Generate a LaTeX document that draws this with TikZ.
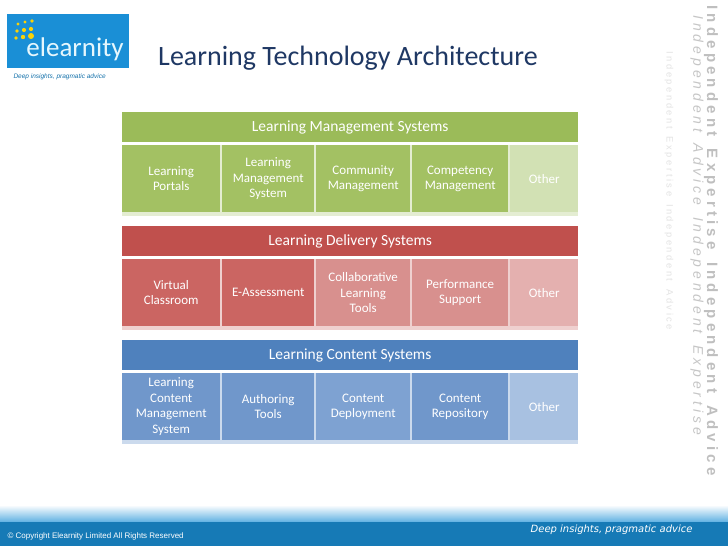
\documentclass[tikz,border=0pt]{standalone}
\usepackage{fontspec}
\setmainfont{Carlito}
\newfontfamily\arial{Liberation Sans}
\newfontfamily\dejas{DejaVu Sans}
\definecolor{gH}{HTML}{9BBB59}\definecolor{gC}{HTML}{A3C163}\definecolor{gO}{HTML}{D2E1B4}
\definecolor{rH}{HTML}{C0504D}\definecolor{rC}{HTML}{CB6562}\definecolor{rL}{HTML}{D8908E}\definecolor{rO}{HTML}{E4B0AF}
\definecolor{bH}{HTML}{4F81BD}\definecolor{bC}{HTML}{7097CB}\definecolor{bL}{HTML}{7EA2D2}\definecolor{bO}{HTML}{A8C1E1}
\definecolor{titl}{HTML}{1F3864}\definecolor{logo}{HTML}{1A8FD6}
\begin{document}
\begin{tikzpicture}[x=1pt,y=-1pt,
  hdr/.style={anchor=north west,inner sep=0,minimum height=30pt,minimum width=456pt,text=white,font=\fontsize{15.5}{17}\selectfont},
  cell/.style={anchor=north west,inner sep=0,minimum height=67pt,text=white,align=center,font=\fontsize{13}{15.5}\selectfont},
  panel/.style={anchor=north west,inner sep=0,minimum height=71pt,minimum width=456pt},
  vt/.style={rotate=-90,anchor=west}]
\useasboundingbox (0,0) rectangle (728,546);
\fill[white] (0,0) rectangle (728,546);
% logo
\node[anchor=north west,fill=logo,minimum width=122pt,minimum height=54pt,inner sep=0] (logo) at (7,14) {};
\node[text=white!90!cyan,font=\fontsize{27}{27}\selectfont] (logot) at (75,49) {elearnity};
\foreach \x/\y/\r in {18/24/1.7,25/22/1.7,32/21/1.9,17/31/1.9,24/30/2.1,31/29/2.1,16/38/1.9,23/37/2.2,31/36/3.0}
  \fill[yellow!70!orange] (\x,\y) circle (\r);
\node[anchor=west,text=logo!80!black,font=\arial\itshape\fontsize{6.5}{7}\selectfont] (logos) at (10,77) {Deep insights, pragmatic advice};
\node[text=titl,font=\fontsize{28}{30}\selectfont] (title) at (348,58) {Learning Technology Architecture};
% panels
\node[panel,fill=gO!60] (p1) at (122,145) {};
\node[panel,fill=rO!60] (p2) at (122,259) {};
\node[panel,fill=bO!60] (p3) at (122,373) {};
\node[hdr,fill=gH] (h1) at (122,112) {Learning Management Systems};
\node[hdr,fill=rH] (h2) at (122,226) {Learning Delivery Systems};
\node[hdr,fill=bH] (h3) at (122,340) {Learning Content Systems};
% row 1
\node[cell,fill=gC,minimum width=98pt] (a1) at (122,145) {Learning\\Portals};
\node[cell,fill=gC,minimum width=92pt] (a2) at (222,145) {Learning\\Management\\System};
\node[cell,fill=gC,minimum width=94pt] (a3) at (316,145) {Community\\Management};
\node[cell,fill=gC,minimum width=96pt] (a4) at (412,145) {Competency\\Management};
\node[cell,fill=gO,minimum width=68pt] (a5) at (510,145) {Other};
% row 2
\node[cell,fill=rC,minimum width=98pt] (b1) at (122,259) {Virtual\\Classroom};
\node[cell,fill=rC,minimum width=92pt] (b2) at (222,259) {E-Assessment};
\node[cell,fill=rL,minimum width=94pt] (b3) at (316,259) {Collaborative\\Learning\\Tools};
\node[cell,fill=rL,minimum width=96pt] (b4) at (412,259) {Performance\\Support};
\node[cell,fill=rO,minimum width=68pt] (b5) at (510,259) {Other};
% row 3
\node[cell,fill=bC,minimum width=98pt] (c1) at (122,373) {Learning\\Content\\Management\\System};
\node[cell,fill=bC,minimum width=92pt] (c2) at (222,373) {Authoring\\Tools};
\node[cell,fill=bL,minimum width=94pt] (c3) at (316,373) {Content\\Deployment};
\node[cell,fill=bC,minimum width=96pt] (c4) at (412,373) {Content\\Repository};
\node[cell,fill=bO,minimum width=68pt] (c5) at (510,373) {Other};
% vertical texts
\node[vt,text=gray!22,font=\arial\fontsize{9.3}{9}\selectfont] (v1) at (669,48) {I n d e p e n d e n t \ \ E x p e r t i s e \ \ I n d e p e n d e n t \ \ A d v i c e};
\node[vt,text=gray!45,font=\arial\itshape\fontsize{14}{14}\selectfont] (v2) at (697,12) {I n d e p e n d e n t \ \ A d v i c e \ \ I n d e p e n d e n t \ \ E x p e r t i s e};
\node[vt,text=gray!50,font=\arial\bfseries\fontsize{15}{15}\selectfont] (v3) at (711,2) {I n d e p e n d e n t \ \ E x p e r t i s e \ \ I n d e p e n d e n t \ \ A d v i c e};
% footer
\shade[top color=white,bottom color=logo!70] (0,505) rectangle (728,522);
\fill[logo!85!black] (0,522) rectangle (728,546);
\node[anchor=west,text=white,font=\arial\fontsize{8}{9}\selectfont] (copy) at (4,536) {© Copyright Elearnity Limited All Rights Reserved};
\node[anchor=east,text=white,font=\dejas\itshape\fontsize{10}{11}\selectfont] (slog) at (696,530) {Deep insights, pragmatic advice};
\end{tikzpicture}
\end{document}
